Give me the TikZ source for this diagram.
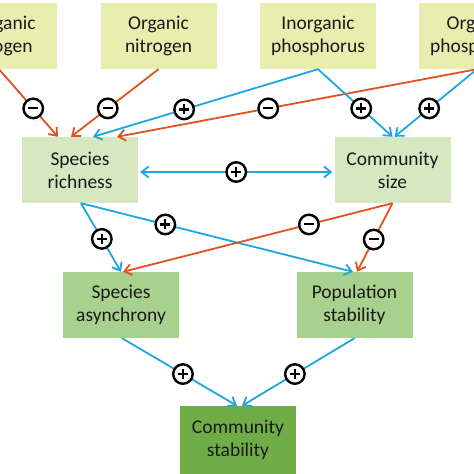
\documentclass[tikz,border=0pt]{standalone}
\usepackage{fontspec}
\setmainfont{Carlito}
\usetikzlibrary{arrows.meta}
\definecolor{boxA}{RGB}{232,238,174}
\definecolor{boxB}{RGB}{213,232,194}
\definecolor{boxC}{RGB}{169,209,142}
\definecolor{boxD}{RGB}{112,173,71}
\definecolor{posc}{RGB}{30,166,224}
\definecolor{negc}{RGB}{224,82,30}
\tikzset{
  box/.style={rectangle, minimum width=116bp, minimum height=66bp, inner sep=0pt,
    align=center, font=\fontsize{19.5bp}{23bp}\selectfont, text=black!90},
  barb/.tip={Straight Barb[length=7bp,width=11bp,line width=1.8bp]},
  posline/.style={draw=posc, line width=1.8bp, -barb},
  negline/.style={draw=negc, line width=1.8bp, -barb},
  sgn/.style={circle, draw=black, fill=white, line width=2.4bp, minimum size=19.5bp, inner sep=0pt},
}
\newcommand{\plussign}{\tikz[baseline=-0.5ex]{\draw[-, line width=2.2bp, draw=black] (-5bp,0)--(5bp,0) (0,-5bp)--(0,5bp);}}
\newcommand{\minussign}{\tikz[baseline=-0.5ex]{\draw[-, line width=2.6bp, draw=black] (-5bp,0)--(5bp,0);}}
\begin{document}
\begin{tikzpicture}[x=1bp,y=-1bp]
\useasboundingbox (0,0) rectangle (474,474);
\begin{scope}
\clip (0,0) rectangle (474,474);
% boxes
\node[box, fill=boxA] (IN) at (-1,36) {Inorganic\\nitrogen};
\node[box, fill=boxA] (ON) at (158.5,36) {Organic\\nitrogen};
\node[box, fill=boxA] (IP) at (318,36) {Inorganic\\phosphorus};
\node[box, fill=boxA] (OP) at (477,36) {Organic\\phosphorus};
\node[box, fill=boxB] (SR) at (80,170) {Species\\richness};
\node[box, fill=boxB] (CS) at (392.5,170) {Community\\size};
\node[box, fill=boxC] (SA) at (121,305) {Species\\asynchrony};
\node[box, fill=boxC] (PS) at (354.5,305) {Population\\stability};
\node[box, fill=boxD, minimum height=68bp] (CT) at (238,440) {Community\\stability};
% connectors
\draw[negline] (IN.south) -- node[sgn, pos=0.58] (l1) {\minussign} ([xshift=-22bp]SR.north);
\draw[negline] (ON.south) -- node[sgn, pos=0.58] (l2) {\minussign} ([xshift=-9bp]SR.north);
\draw[posline] (IP.south) -- node[sgn, pos=0.595] (l3) {\plussign} ([xshift=13bp]SR.north);
\draw[negline] (OP.south) -- node[sgn, pos=0.58] (l4) {\minussign} ([xshift=37bp]SR.north);
\draw[posline] (IP.south) -- node[sgn, pos=0.58] (l5) {\plussign} (CS.north);
\draw[posline] (OP.south) -- node[sgn, pos=0.58] (l6) {\plussign} ([xshift=2bp]CS.north);
\draw[posline, barb-barb]
  ([xshift=2bp,yshift=-2bp]SR.east) -- node[sgn] (l7) {\plussign} ([xshift=-2bp,yshift=-2bp]CS.west);
\draw[posline] ([xshift=1bp]SR.south) -- node[sgn, pos=0.52] (l8) {\plussign} (SA.north);
\draw[posline] ([xshift=1bp]SR.south) -- node[sgn, pos=0.31] (l9) {\plussign} ([xshift=-1.5bp]PS.north);
\draw[negline] (CS.south) -- node[sgn, pos=0.31] (l10) {\minussign} ([xshift=2bp]SA.north);
\draw[negline] (CS.south) -- node[sgn, pos=0.53] (l11) {\minussign} ([xshift=2.5bp]PS.north);
\draw[posline] ([xshift=1bp]SA.south) -- node[sgn, pos=0.53] (l12) {\plussign} ([xshift=-1bp]CT.north);
\draw[posline] (PS.south) -- node[sgn, pos=0.53] (l13) {\plussign} ([xshift=4bp]CT.north);
\end{scope}
\end{tikzpicture}
\end{document}
